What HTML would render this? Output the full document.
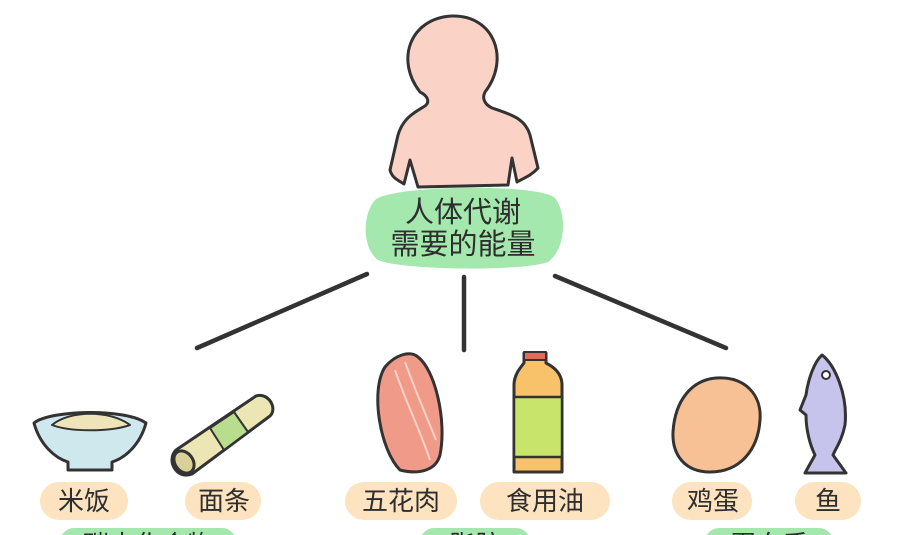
<!DOCTYPE html>
<html><head><meta charset="utf-8"><style>
html,body{margin:0;padding:0;background:#fff;width:900px;height:535px;overflow:hidden}
svg text{font-family:"Liberation Sans","Noto Sans CJK SC",sans-serif;fill:#2e2e2e;text-anchor:middle}
</style></head><body>
<svg width="900" height="535" viewBox="0 0 900 535" xmlns="http://www.w3.org/2000/svg">
<g stroke="#333" stroke-width="3" stroke-linejoin="round">
<path d="M420,92 C395,60 410,18 452,16 C495,15 510,60 485,92 C482,98 484,104 492,108 C510,114 525,118 530,135 L538,168 C532,175 524,178 517,182 L512,158 L508,185 L418,187 L410,160 L404,184 C398,180 392,178 390,170 L398,135 C403,118 415,112 425,106 C430,102 428,96 420,92 Z" fill="#fad3c6"/>
</g>
<path d="M375,200 C390,185 540,183 555,198 C568,215 565,250 548,262 C520,272 400,270 378,260 C362,248 362,215 375,200 Z" fill="#a4e8ad"/>
<text x="463" y="222" font-size="29">人体代谢</text>
<text x="463" y="254" font-size="29">需要的能量</text>
<g stroke="#333" stroke-width="4.5" stroke-linecap="round">
<line x1="197" y1="348" x2="367" y2="274"/>
<line x1="464" y1="277" x2="464" y2="350"/>
<line x1="555" y1="276" x2="726" y2="348"/>
</g>
<g stroke="#333" stroke-width="3" stroke-linejoin="round">
<path d="M34,423 C50,410 125,408 146,423 C140,445 125,458 112,462 L112,470 L68,470 L68,462 C55,458 40,445 34,423 Z" fill="#cfe8ee"/>
<path d="M52,425 C70,410 110,410 130,425 C110,432 70,432 52,425 Z" fill="#efe3b8" stroke-width="2"/>
<path d="M176,450 L256,396 C268,392 278,408 270,416 L192,474 C176,480 166,460 176,450 Z" fill="#ece6b4"/>
<path d="M210,428 L234,412 L248,432 L224,450 Z" fill="#b8dd8e" stroke-width="2"/>
<ellipse cx="184" cy="462" rx="9" ry="12" transform="rotate(-35 184 462)" fill="#d9d09a"/>
<path d="M385,367 C395,355 410,350 418,357 C435,370 447,420 440,455 C436,470 420,475 400,470 C380,450 370,390 385,367 Z" fill="#f09a8a"/>
<path d="M395,370 C405,400 420,430 430,460 M405,362 C415,390 428,420 436,440" stroke="#fbd2c6" stroke-width="2" fill="none"/>
<path d="M524,353 L546,353 L546,363 C556,368 562,375 562,385 L562,472 L514,472 L514,385 C514,375 520,368 524,363 Z" fill="#f7c26a"/>
<rect x="514" y="397" width="48" height="60" fill="#c9e46a" stroke-width="2.5"/>
<rect x="524" y="352" width="22" height="8" fill="#e66a5a" stroke-width="2"/>
<path d="M716,378 C745,376 762,395 760,420 C758,450 740,472 710,472 C685,472 672,455 673,432 C675,400 692,380 716,378 Z" fill="#f8c095"/>
<path d="M822,355 C835,365 848,395 845,425 C842,440 836,448 833,455 L846,473 L805,473 L815,455 C810,445 806,430 806,415 L800,410 L806,395 C808,380 814,362 822,355 Z" fill="#c6c3ec"/>
<circle cx="826" cy="375" r="4" fill="#fff" stroke-width="2"/>
</g>
<g fill="#fde3c0">
<rect x="40" y="482" width="88" height="38" rx="19"/>
<rect x="185" y="482" width="76" height="38" rx="19"/>
<rect x="345" y="482" width="112" height="38" rx="19"/>
<rect x="480" y="482" width="130" height="38" rx="19"/>
<rect x="672" y="482" width="80" height="38" rx="19"/>
<rect x="795" y="482" width="66" height="38" rx="19"/>
</g>
<g font-size="26">
<text x="84" y="510">米饭</text>
<text x="224" y="510">面条</text>
<text x="401" y="510">五花肉</text>
<text x="545" y="510">食用油</text>
<text x="713" y="510">鸡蛋</text>
<text x="828" y="510">鱼</text>
</g>
<g fill="#a4e8ad">
<rect x="60" y="528" width="176" height="30" rx="14"/>
<rect x="420" y="528" width="110" height="30" rx="14"/>
<rect x="705" y="528" width="128" height="30" rx="14"/>
</g>
<g font-size="26">
<text x="148" y="554">碳水化合物</text>
<text x="475" y="554">脂肪</text>
<text x="769" y="554">蛋白质</text>
</g>
</svg>
</body></html>
